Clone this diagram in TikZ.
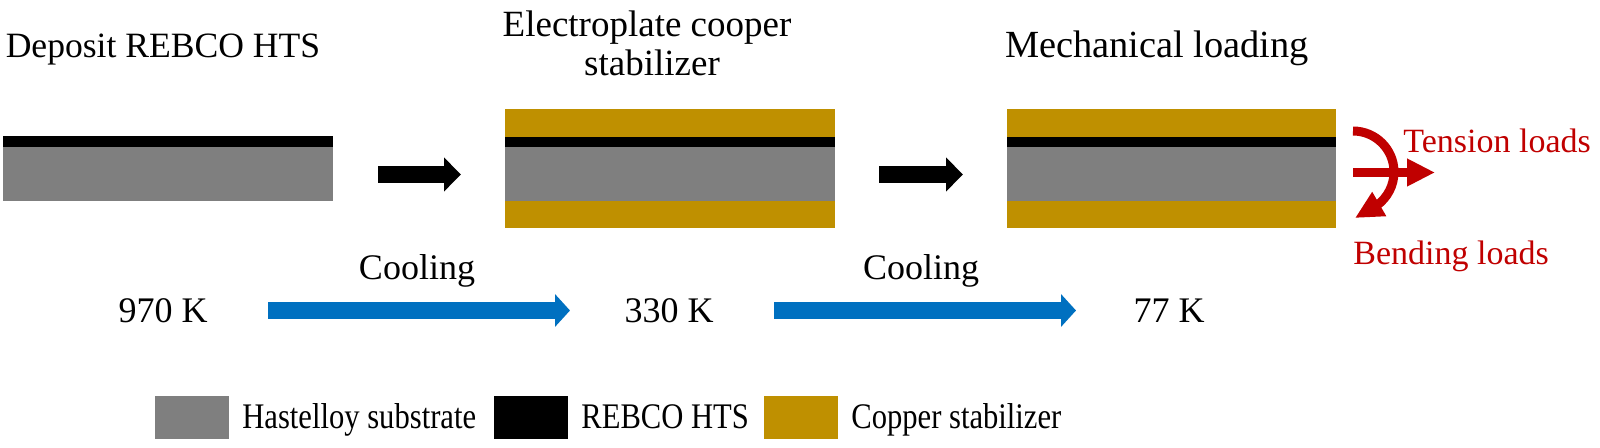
\documentclass[tikz,border=0pt]{standalone}
\usepackage{fontspec}
\setmainfont{Liberation Serif}
\usetikzlibrary{arrows.meta}
\definecolor{hast}{RGB}{127,127,127}
\definecolor{cop}{RGB}{191,144,0}
\definecolor{cblue}{RGB}{0,112,192}
\definecolor{cred}{RGB}{192,0,0}
\newcommand\legtext[1]{\scalebox{0.85}[1]{#1}}
\begin{document}
\begin{tikzpicture}[x=0.5pt,y=-0.5pt,
  title/.style={font=\rmfamily\fontsize{18.5}{19.5}\selectfont, anchor=base, inner sep=0pt},
  lbl/.style={font=\rmfamily\fontsize{18}{21}\selectfont, anchor=base, inner sep=0pt},
  load/.style={font=\rmfamily\fontsize{17}{20}\selectfont, text=cred, anchor=base west, inner sep=0pt},
  leg/.style={font=\rmfamily\fontsize{18}{20}\selectfont, anchor=base west, inner sep=0pt},
  blk/.style={line width=8.5pt, -{Triangle[length=8.5pt,width=16.5pt]}},
  blu/.style={cblue, line width=8.5pt, -{Triangle[length=7.5pt,width=16pt]}},
  redarr/.style={cred, line width=4.5pt, -{Triangle[length=14pt,width=13pt]}}
]
\useasboundingbox (0,0) rectangle (1600,448);

% titles
\node[title, font=\rmfamily\fontsize{17.8}{19.5}\selectfont] (ti1) at (163,58) {Deposit REBCO HTS};
\node[title] (ti2a) at (647,37) {Electroplate cooper};
\node[title] (ti2b) at (652,76) {stabilizer};
\node[title, font=\rmfamily\fontsize{19.2}{19.5}\selectfont] (ti3) at (1157,58) {Mechanical loading};

% tape 1
\fill[black] (3,136) rectangle (333,147);
\fill[hast] (3,147) rectangle (333,201);
% tape 2
\fill[cop] (505,109) rectangle (835,137);
\fill[black] (505,137) rectangle (835,147);
\fill[hast] (505,147) rectangle (835,201);
\fill[cop] (505,201) rectangle (835,228);
% tape 3
\fill[cop] (1007,109) rectangle (1336,137);
\fill[black] (1007,137) rectangle (1336,147);
\fill[hast] (1007,147) rectangle (1336,201);
\fill[cop] (1007,201) rectangle (1336,228);

% process arrows
\coordinate (a1s) at (378,174.5);
\coordinate (a1e) at (461,174.5);
\coordinate (a2s) at (879,174.5);
\coordinate (a2e) at (963,174.5);
\draw[blk] (a1s) -- (a1e);
\draw[blk] (a2s) -- (a2e);

% loads
\coordinate (r1s) at (1353,172.5);
\coordinate (r1e) at (1435,172.5);
\coordinate (r2s) at (1353,131);
\coordinate (r2e) at (1355,218);
\draw[redarr] (r2s) arc[start angle=-90, end angle=55, radius=41] -- (r2e);
\draw[redarr] (r1s) -- (r1e);
\node[load] (tl) at (1403,153) {Tension loads};
\node[load] (bl) at (1353,265) {Bending loads};

% temperatures
\node[lbl] (k1) at (163,323) {970 K};
\node[lbl] (k2) at (669,323) {330 K};
\node[lbl] (k3) at (1169,323) {77 K};
\node[lbl] (c1) at (417,280) {Cooling};
\node[lbl] (c2) at (921,280) {Cooling};
\coordinate (b1s) at (268,310.5);
\coordinate (b1e) at (570,310.5);
\coordinate (b2s) at (774,310.5);
\coordinate (b2e) at (1076,310.5);
\draw[blu] (b1s) -- (b1e);
\draw[blu] (b2s) -- (b2e);

% legend
\fill[hast] (155,396) rectangle (229,439);
\node[leg] (lg1) at (242,429) {\legtext{Hastelloy substrate}};
\fill[black] (494,396) rectangle (568,439);
\node[leg] (lg2) at (581,429) {\legtext{REBCO HTS}};
\fill[cop] (764,396) rectangle (838,439);
\node[leg] (lg3) at (851,429) {\legtext{Copper stabilizer}};
\end{tikzpicture}
\end{document}
